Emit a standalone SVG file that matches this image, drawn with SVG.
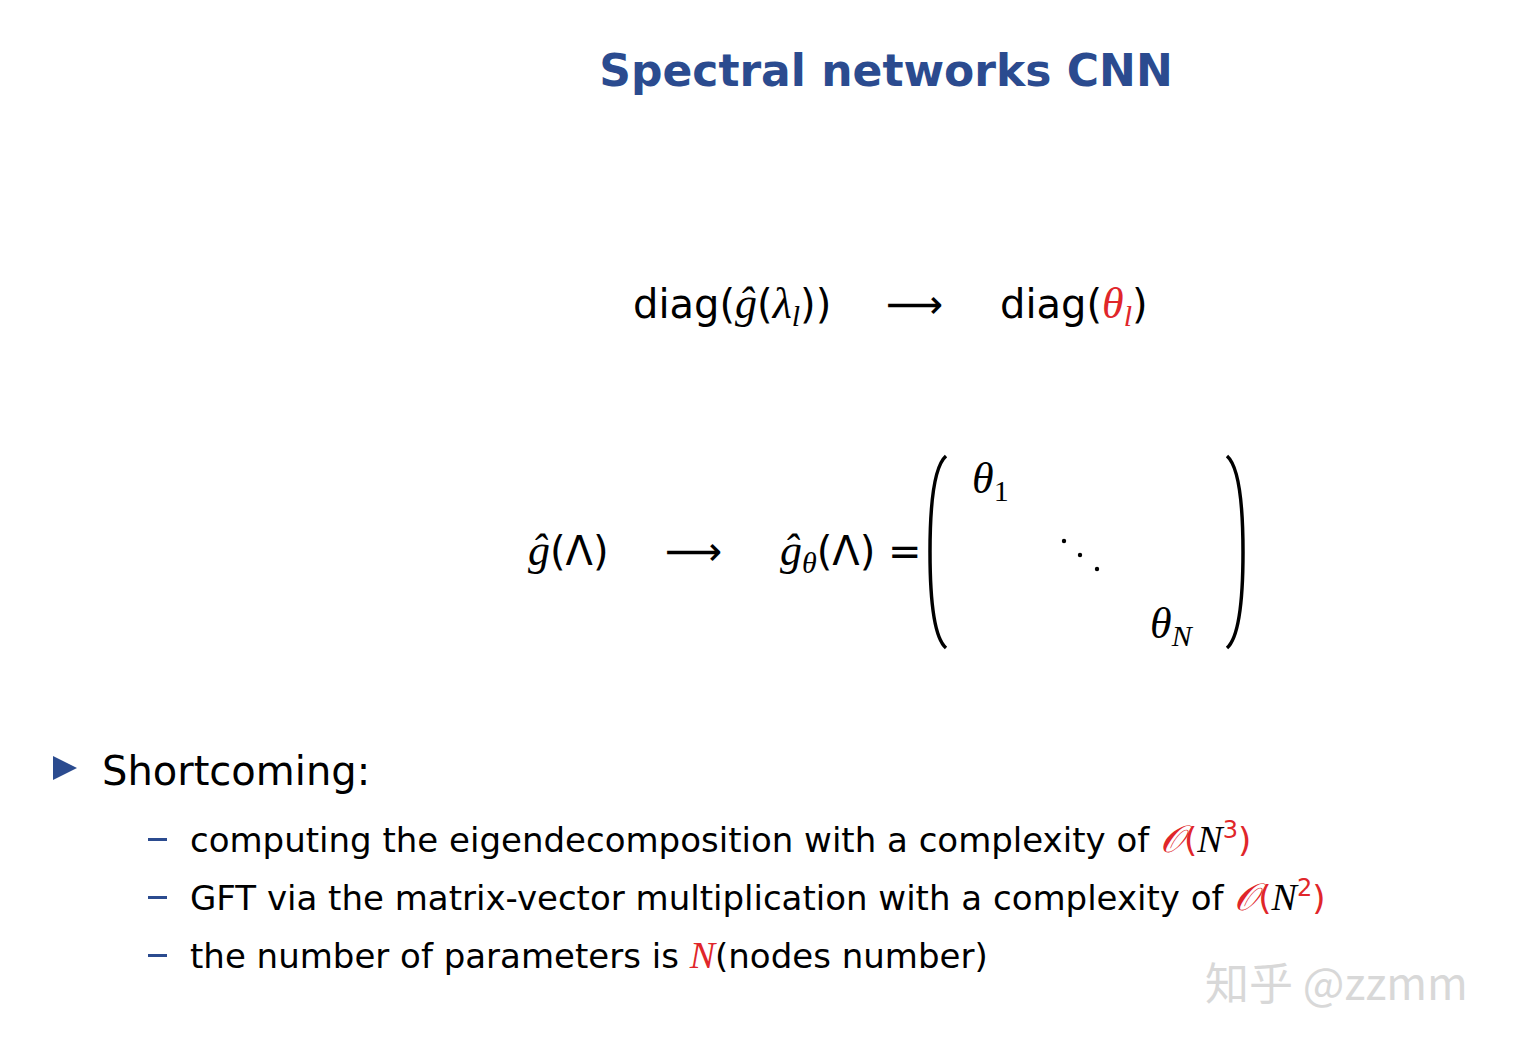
<svg xmlns="http://www.w3.org/2000/svg" width="1520" height="1046" viewBox="0 0 1520 1046">
<style>
.s{font-family:"DejaVu Sans","Noto Sans",sans-serif;fill:#000}
.m{font-family:"Liberation Serif","DejaVu Serif",serif;font-style:italic;fill:#000}
.r{fill:#e0262a}
.b{fill:#2b4b8f}
</style>
<rect width="1520" height="1046" fill="#fff"/>
<text x="886" y="86" text-anchor="middle" class="s b" font-size="44" font-weight="bold">Spectral networks CNN</text>
<g font-size="40">
<text x="633" y="318" class="s">diag(<tspan class="m" font-size="44">ĝ</tspan>(<tspan class="m" font-size="44">λ<tspan font-size="30" dy="8">l</tspan></tspan><tspan dy="-8">))</tspan></text>
<text x="886" y="318" class="s" font-size="40">⟶</text>
<text x="1000" y="318" class="s">diag(<tspan class="m r" font-size="44">θ<tspan font-size="30" dy="8">l</tspan></tspan><tspan dy="-8">)</tspan></text>
<text x="528" y="565" class="s"><tspan class="m" font-size="44">ĝ</tspan>(Λ)</text>
<text x="665" y="565" class="s">⟶</text>
<text x="780" y="565" class="s"><tspan class="m" font-size="44">ĝ<tspan font-size="30" dy="8">θ</tspan></tspan><tspan dy="-8">(Λ) =</tspan></text>
<text x="972" y="493" class="m" font-size="44">θ<tspan font-size="30" font-style="normal" dy="8">1</tspan></text>
<text x="1150" y="638" class="m" font-size="44">θ<tspan font-size="30" dy="8">N</tspan></text>
</g>
<g fill="#000"><circle cx="1064" cy="541" r="2.2"/><circle cx="1080" cy="555" r="2.2"/><circle cx="1097" cy="569" r="2.2"/></g>
<path d="M946 456 Q930 470 930 552 Q930 634 946 648" fill="none" stroke="#000" stroke-width="3.5"/>
<path d="M1227 456 Q1243 470 1243 552 Q1243 634 1227 648" fill="none" stroke="#000" stroke-width="3.5"/>
<polygon points="53,756 77,768 53,780" class="b"/>
<text x="102" y="785" class="s" font-size="40">Shortcoming:</text>
<g class="b"><rect x="148" y="838" width="19" height="3"/><rect x="148" y="896" width="19" height="3"/><rect x="148" y="954" width="19" height="3"/></g>
<g font-size="34" class="s">
<text x="190" y="852">computing the eigendecomposition with a complexity of <tspan class="m r" font-size="38">𝒪</tspan><tspan class="r">(<tspan class="m" font-size="38">N</tspan><tspan font-size="24" dy="-14">3</tspan><tspan dy="14">)</tspan></tspan></text>
<text x="190" y="910">GFT via the matrix-vector multiplication with a complexity of <tspan class="m r" font-size="38">𝒪</tspan><tspan class="r">(<tspan class="m" font-size="38">N</tspan><tspan font-size="24" dy="-14">2</tspan><tspan dy="14">)</tspan></tspan></text>
<text x="190" y="968">the number of parameters is <tspan class="m r" font-size="38">N</tspan>(nodes number)</text>
</g>
<text x="1205" y="1000" font-family="'Noto Sans CJK SC',sans-serif" font-size="44" fill="#d8d8d8">知乎 @zzmm</text>
</svg>
